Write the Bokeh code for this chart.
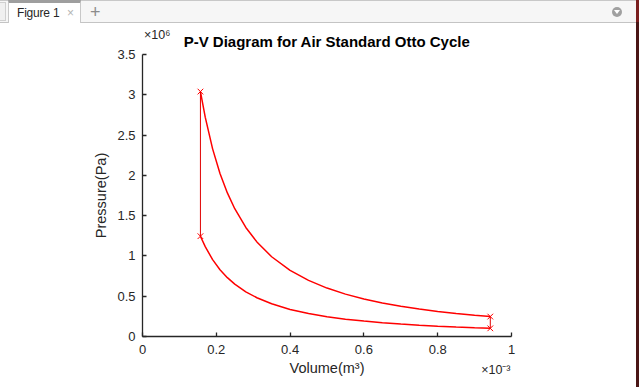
from bokeh.plotting import figure
from bokeh.layouts import column, row
from bokeh.models import Title, FixedTicker, Range1d, Div
from bokeh.embed import file_html
from bokeh.resources import INLINE

# ---- data (volume in 1e-3 m^3, pressure in 1e6 Pa) ----
v_compression = [0.157, 0.17, 0.19, 0.21, 0.23, 0.25, 0.28, 0.31, 0.35, 0.40, 0.45,
                 0.50, 0.55, 0.60, 0.65, 0.70, 0.75, 0.80, 0.85, 0.90, 0.9425]
p_compression = [1.245, 1.115, 0.954, 0.829, 0.730, 0.650, 0.554, 0.481, 0.406, 0.336, 0.285,
                 0.246, 0.215, 0.191, 0.171, 0.154, 0.140, 0.128, 0.117, 0.108, 0.1013]
v_expansion = [0.157, 0.17, 0.19, 0.21, 0.23, 0.25, 0.28, 0.31, 0.35, 0.40, 0.45,
               0.50, 0.55, 0.60, 0.65, 0.70, 0.75, 0.80, 0.85, 0.90, 0.9425]
p_expansion = [3.040, 2.722, 2.329, 2.024, 1.782, 1.586, 1.353, 1.174, 0.990, 0.821, 0.697,
               0.601, 0.526, 0.466, 0.416, 0.375, 0.341, 0.311, 0.286, 0.264, 0.2474]
state_v = [0.9425, 0.157, 0.157, 0.9425]
state_p = [0.1013, 1.245, 3.040, 0.2474]

x_ticks = [0, 0.2, 0.4, 0.6, 0.8, 1]
x_tick_labels = ["0", "0.2", "0.4", "0.6", "0.8", "1"]
y_ticks = [0, 0.5, 1, 1.5, 2, 2.5, 3, 3.5]
y_tick_labels = ["0", "0.5", "1", "1.5", "2", "2.5", "3", "3.5"]

title_text = "P-V Diagram for Air Standard Otto Cycle"
x_label = "Volume(m³)"
y_label = "Pressure(Pa)"
y_exponent = "×10⁶"
x_exponent = "×10⁻³"

FONT = "Liberation Sans"
AX = "#262626"
RED = "#ff0000"

# ---- MATLAB-like tab bar (top) ----
tab_html = """
<div style="position:relative;width:636px;height:23px;background:#f6f6f6;overflow:hidden;
            font-family:'Liberation Sans',Arial,sans-serif;">
  <div style="position:absolute;left:0;top:0;width:636px;height:1px;background:#c8c8c8"></div>
  <div style="position:absolute;left:0;top:22px;width:636px;height:1px;background:#c4c4c4"></div>
  <div style="position:absolute;left:0;top:2px;width:6px;height:19px;border:1px solid #d0d0d0;
              border-left:none;background:#f0f0f0;box-sizing:border-box"></div>
  <div style="position:absolute;left:8px;top:0;width:73px;height:23px;background:#ffffff;
              border-left:1px solid #c8c8c8;border-right:1px solid #c8c8c8;border-top:3px solid #9e9e9e;
              box-sizing:border-box"></div>
  <div style="position:absolute;left:17px;top:6px;font-size:12px;line-height:14px;color:#262626;
              letter-spacing:-0.2px">Figure 1</div>
  <div style="position:absolute;left:67px;top:6px;font-size:12px;line-height:14px;color:#b4b4b4">×</div>
  <div style="position:absolute;left:90px;top:3px;font-size:18px;line-height:18px;color:#8c8c8c;
              font-weight:300">+</div>
  <div style="position:absolute;left:612px;top:7px;width:10px;height:10px;border-radius:5px;
              background:#a0a0a0"></div>
  <div style="position:absolute;left:614px;top:10px;width:0;height:0;border-left:3px solid transparent;
              border-right:3px solid transparent;border-top:4px solid #ffffff"></div>
</div>
"""
tab_bar = Div(text=tab_html, width=636, height=23, margin=0)

# ---- main chart ----
p = figure(width=636, height=360, x_range=Range1d(0, 1), y_range=Range1d(0, 3.5),
           output_backend="svg", toolbar_location=None, title_location=None,
           min_border_left=142, min_border_right=125, min_border_top=31, min_border_bottom=47,
           background_fill_color="white", border_fill_color="white")
p.outline_line_color = None
p.grid.visible = False

p.line(v_expansion, p_expansion, line_color=RED, line_width=1.5)
p.line(v_compression, p_compression, line_color=RED, line_width=1.5)
p.segment(x0=[state_v[1], state_v[3]], y0=[state_p[1], state_p[3]],
          x1=[state_v[2], state_v[0]], y1=[state_p[2], state_p[0]],
          line_color="#e00000", line_width=1)
p.scatter(state_v, state_p, marker="x", size=8, line_color=RED, line_width=1)

p.xaxis.ticker = FixedTicker(ticks=x_ticks)
p.xaxis.major_label_overrides = dict(zip(x_ticks, x_tick_labels))
p.yaxis.ticker = FixedTicker(ticks=y_ticks)
p.yaxis.major_label_overrides = dict(zip(y_ticks, y_tick_labels))
p.xaxis.axis_label = x_label
p.yaxis.axis_label = y_label

for ax in (p.xaxis[0], p.yaxis[0]):
    ax.axis_line_color = AX
    ax.axis_line_width = 1.3
    ax.major_tick_in = 4
    ax.major_tick_out = 0
    ax.major_tick_line_color = AX
    ax.major_tick_line_width = 1.3
    ax.minor_tick_in = 0
    ax.minor_tick_out = 0
    ax.major_label_text_font = FONT
    ax.major_label_text_font_size = "13px"
    ax.major_label_text_color = AX
    ax.axis_label_text_font = FONT
    ax.axis_label_text_font_size = "14.5px"
    ax.axis_label_text_font_style = "normal"
    ax.axis_label_text_color = AX

p.xaxis.major_label_standoff = 8
p.yaxis.major_label_standoff = 7
p.xaxis.axis_label_standoff = 3
p.yaxis.axis_label_standoff = 5

main_title = Title(text=title_text, align="center", text_font=FONT, text_font_size="15px",
                   text_font_style="bold", text_color="black", standoff=8.6)
p.add_layout(main_title, "above")
y_exp_title = Title(text=y_exponent, align="left", offset=1.5, text_font=FONT,
                    text_font_size="12.5px", text_font_style="normal", text_color=AX,
                    standoff=-30)
p.add_layout(y_exp_title, "above")
x_exp_title = Title(text=x_exponent, align="right", offset=1, vertical_align="top",
                    text_font=FONT, text_font_size="12.5px", text_font_style="normal",
                    text_color=AX, standoff=-31)
p.add_layout(x_exp_title, "below")

# ---- bottom and right window edges ----
bottom_edge = Div(text="""<div style="width:636px;height:4px;background:#f0f0f0;
                  border-top:1px solid #b4b4b4;box-sizing:border-box"></div>""",
                  width=636, height=4, margin=0)
right_edge = Div(text="""<div style="width:3px;height:387px;
                 background:linear-gradient(#7a1e1e 0px,#7a1e1e 22px,#4a1616 22px)"></div>""",
                 width=3, height=387, margin=0)

layout = row(column(tab_bar, p, bottom_edge, spacing=0), right_edge, spacing=0)
open("out.html", "w").write(file_html(layout, INLINE))
